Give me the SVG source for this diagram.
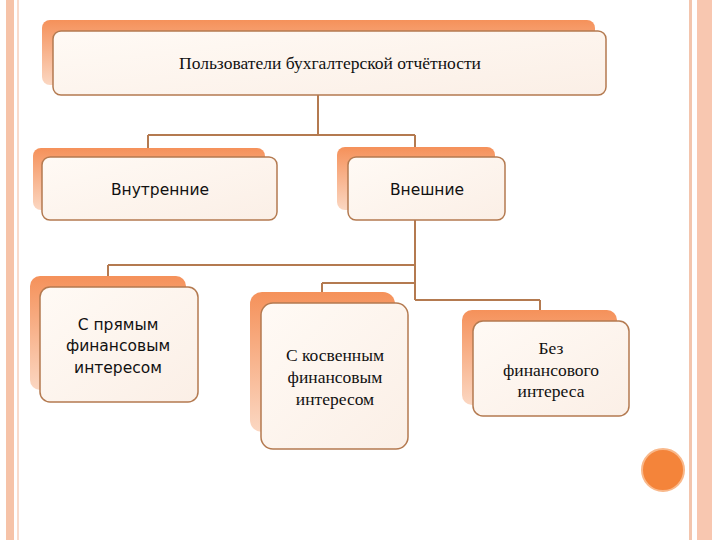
<svg xmlns="http://www.w3.org/2000/svg" width="720" height="540" viewBox="0 0 720 540">
<defs>
<linearGradient id="tab" x1="0" y1="0" x2="0" y2="1"><stop offset="0" stop-color="#f5915a"/><stop offset="1" stop-color="#fbd7c2"/></linearGradient>
<linearGradient id="face" x1="0" y1="0" x2="1" y2="1"><stop offset="0" stop-color="#fffaf5"/><stop offset="1" stop-color="#fbefe6"/></linearGradient>
</defs>
<style>
.tab{fill:url(#tab)}
.face{fill:url(#face);stroke:#b47a50;stroke-width:1.5}
.c{fill:none;stroke:#b47a50;stroke-width:2}
.s{font-family:"Liberation Serif",serif;font-size:17.5px;fill:#111;text-anchor:middle}
.n{font-family:"DejaVu Sans",sans-serif;font-size:15.5px;fill:#111;text-anchor:middle}
</style>
<rect width="720" height="540" fill="#fff"/>
<rect x="6" y="0" width="8" height="540" fill="#f6c3a8"/>
<rect x="17" y="0" width="2" height="540" fill="#f9dccd"/>
<rect x="689" y="0" width="3" height="540" fill="#f3c5ad"/>
<rect x="697" y="0" width="15" height="540" fill="#f8c7b0"/>
<g id="connectors">
<path class="c" d="M318 95V135M148 135H415M148 135V148M415 135V148"/>
<path class="c" d="M415 220V300M108 265H415M108 265V277M322 283H415M322 283V293M415 300H540M540 300V311"/>
</g>
<g id="top"><rect class="tab" x="42" y="20" width="553" height="65" rx="8"/><rect class="face" x="53" y="31" width="553" height="64" rx="8"/><text class="s" x="330" y="69">Пользователи бухгалтерской отчётности</text></g>
<g id="internal"><rect class="tab" x="33" y="148" width="232" height="62" rx="8"/><rect class="face" x="42" y="157" width="235" height="63" rx="8"/><text class="n" x="160" y="195">Внутренние</text></g>
<g id="external"><rect class="tab" x="337" y="147" width="158" height="63" rx="8"/><rect class="face" x="348" y="157" width="157" height="63" rx="8"/><text class="n" x="427" y="195">Внешние</text></g>
<g id="direct"><rect class="tab" x="30" y="276" width="156" height="114" rx="10"/><rect class="face" x="40" y="287" width="158" height="115" rx="10"/><text class="n" x="118" y="330">С прямым</text><text class="n" x="118" y="351">финансовым</text><text class="n" x="118" y="373">интересом</text></g>
<g id="indirect"><rect class="tab" x="250" y="292" width="145" height="140" rx="12"/><rect class="face" x="261" y="303" width="147" height="146" rx="12"/><text class="s" x="335" y="361">С косвенным</text><text class="s" x="335" y="383">финансовым</text><text class="s" x="335" y="405">интересом</text></g>
<g id="none"><rect class="tab" x="462" y="310" width="155" height="95" rx="10"/><rect class="face" x="473" y="321" width="156" height="95" rx="10"/><text class="s" x="551" y="354">Без</text><text class="s" x="551" y="376">финансового</text><text class="s" x="551" y="397">интереса</text></g>
<circle cx="663" cy="470" r="21" fill="#f4843a" stroke="#f9b88a" stroke-width="2"/>
</svg>
